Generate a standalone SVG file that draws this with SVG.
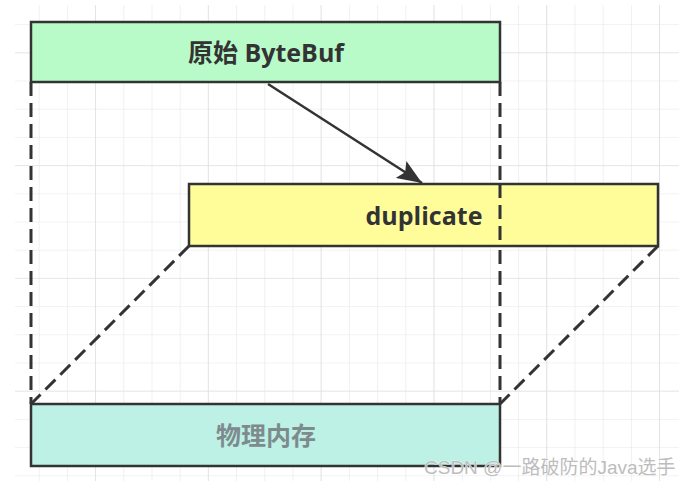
<svg xmlns="http://www.w3.org/2000/svg" width="690" height="484" viewBox="0 0 690 484">
<defs>
<pattern id="grid" x="10.5" y="24.1" width="28.2" height="28.2" patternUnits="userSpaceOnUse">
<path d="M0 0V28.2M0 0H28.2" fill="none" stroke="#e6e6e6" stroke-width="1.2"/>
</pattern>
<pattern id="grid4" x="95" y="52.3" width="112.8" height="112.8" patternUnits="userSpaceOnUse">
<path d="M0 0V112.8M0 0H112.8" fill="none" stroke="#dcdcdc" stroke-width="1.2"/>
</pattern>
<marker id="arrow" viewBox="0 0 20 16" refX="20" refY="8" markerWidth="25" markerHeight="20" markerUnits="userSpaceOnUse" orient="auto">
<path d="M0 0L20 8L0 16L4 8Z" fill="#333"/>
</marker>
</defs>
<style>
.box{stroke:#333;stroke-width:2.5}
.lbl{font-family:"Open Sans","Noto Sans","Noto Sans CJK SC",sans-serif;font-weight:bold;font-size:25px;text-anchor:middle}
.dash{fill:none;stroke:#333;stroke-width:3;stroke-dasharray:14 7}
.wm{font-family:"Liberation Sans","Noto Sans CJK SC",sans-serif;font-size:19px;fill:#bdbdbd;stroke:#fff;stroke-width:0.7;paint-order:stroke}
</style>
<rect width="690" height="484" fill="#fff"/>
<rect x="15" y="5" width="664" height="476" fill="url(#grid)"/>
<rect x="15" y="5" width="664" height="476" fill="url(#grid4)"/>
<g id="connectors">
<path class="dash" d="M31 82V404"/>
<path class="dash" d="M500 82V404"/>
<path class="dash" d="M189 246L31 404"/>
<path class="dash" d="M658 246L500 404"/>
<path d="M268 84L422 183" fill="none" stroke="#333" stroke-width="2.5" marker-end="url(#arrow)"/>
</g>
<g id="node-original">
<rect class="box" x="31" y="22" width="469" height="60" fill="#b8fbc9"/>
<text class="lbl" x="266" y="62" fill="#333">原始 ByteBuf</text>
</g>
<g id="node-duplicate">
<rect class="box" x="189" y="184" width="469" height="62" fill="#fffd9a"/>
<text class="lbl" x="424" y="225" fill="#333">duplicate</text>
</g>
<path class="dash" d="M500 184V246"/>
<g id="node-memory">
<rect class="box" x="31" y="404" width="469" height="62" fill="#bdf1e5"/>
<text class="lbl" x="266" y="445" fill="#7d8b8f">物理内存</text>
</g>
<text class="wm" x="424" y="474">CSDN @一路破防的Java选手</text>
</svg>
